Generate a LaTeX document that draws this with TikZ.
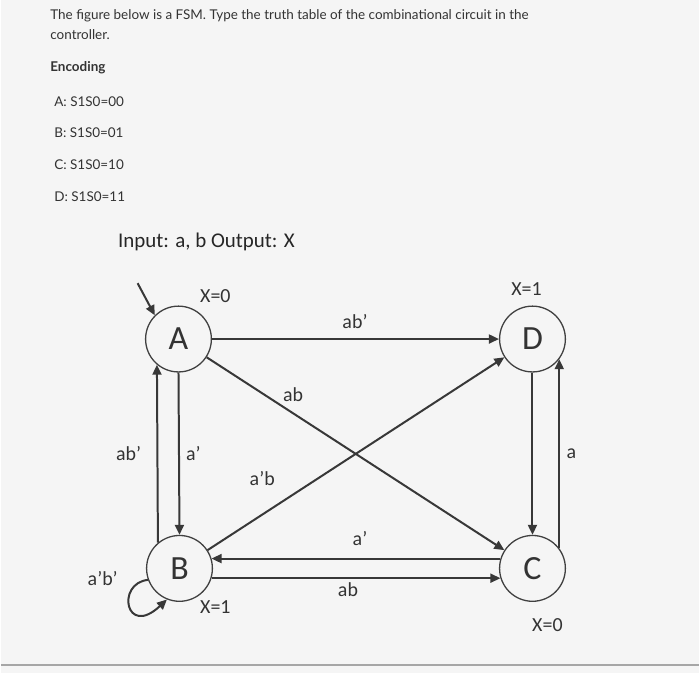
\documentclass[tikz,border=0pt]{standalone}
\usepackage{fontspec}
\setmainfont{Carlito}
\newfontfamily\toptext{Lato}
\usetikzlibrary{arrows.meta}
\begin{document}
\begin{tikzpicture}[x=1pt,y=-1pt,
  st/.style={circle,draw=black!75,line width=1.3pt,minimum size=66pt,inner sep=0pt,font=\fontsize{34}{34}\selectfont,text=black!80},
  ed/.style={draw=black!78,line width=2pt,-{Triangle[length=10pt,width=9pt]}},
  lb/.style={font=\fontsize{20}{20}\selectfont,text=black!80},
  tx/.style={anchor=west,font=\toptext\fontsize{13.5}{14}\selectfont,text=black!80}]
\fill[black!4] (0,0) rectangle (700,675);
\draw[black!35,line width=2pt] (0,667) -- (700,667);
\node[tx] (t1) at (46,16) {The figure below is a FSM. Type the truth table of the combinational circuit in the};
\node[tx] (t2) at (46,35) {controller.};
\node[tx,font=\toptext\bfseries\fontsize{13.5}{14}\selectfont] (t3) at (46,68) {Encoding};
\node[tx] (e1) at (50,102) {A: S1S0=00};
\node[tx] (e2) at (50,133) {B: S1S0=01};
\node[tx] (e3) at (50,165) {C: S1S0=10};
\node[tx] (e4) at (50,197) {D: S1S0=11};
\node[anchor=west,font=\fontsize{21}{21}\selectfont,text=black!85] (io) at (114,243) {Input: a, b Output: X};

\node[st] (A) at (178,340) {A};
\node[st] (D) at (533,340) {D};
\node[st] (B) at (179,570) {B};
\node[st] (C) at (533,570) {C};

\coordinate (init) at (137,284);
\draw[ed] (init) -- (A.135);
\draw[ed] (A) -- (D);
\draw[ed] (A) -- (C);
\draw[ed] (B) -- (D);
\draw[ed] (A.south) -- (B.north);
\draw[ed] (B.130) -- (A.-130);
\draw[ed] (D.south) -- (C.north);
\draw[ed] (C.37) -- (D.-37);
\draw[ed] (C.163) -- (B.17);
\draw[ed] (B.-17) -- (C.-163);
\draw[ed] (B.200) .. controls (115,585) and (125,640) .. (B.-112);

\node[lb] (l1) at (215,297) {X=0};
\node[lb] (l2) at (527,290) {X=1};
\node[lb] (l3) at (215,609) {X=1};
\node[lb] (l4) at (548,627) {X=0};
\node[lb] (l5) at (355,322) {ab’};
\node[lb] (l6) at (293,396) {ab};
\node[lb] (l7) at (262,480) {a’b};
\node[lb] (l8) at (193,455) {a’};
\node[lb] (l9) at (128,455) {ab’};
\node[lb] (l10) at (572,455) {a};
\node[lb] (l11) at (360,540) {a’};
\node[lb] (l12) at (348,591) {ab};
\node[lb] (l13) at (102,580) {a’b’};
\end{tikzpicture}
\end{document}
